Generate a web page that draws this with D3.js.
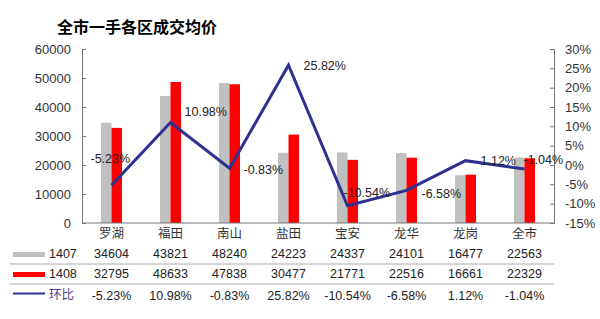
<!DOCTYPE html>
<html><head><meta charset="utf-8">
<script src="https://cdn.jsdelivr.net/npm/d3@7"></script>
<style>body{margin:0;background:#fff}svg{display:block}</style>
</head><body>
<svg id="c" width="600" height="319"></svg>
<script>
const categories = ["罗湖","福田","南山","盐田","宝安","龙华","龙岗","全市"];
const series1407 = [34604,43821,48240,24223,24337,24101,16477,22563];
const series1408 = [32795,48633,47838,30477,21771,22516,16661,22329];
const momPct = [-5.23,10.98,-0.83,25.82,-10.54,-6.58,1.12,-1.04];
const leftTicks = [0,10000,20000,30000,40000,50000,60000];
const rightTicks = [-15,-10,-5,0,5,10,15,20,25,30];
const seriesNames = ["1407","1408","环比"];
const title = "全市一手各区成交均价";

// label offsets (style) relative to each line point, text starts at offset
const labelOffsets = [[-21,-27],[14,-11],[14,1],[15,0],[-4,-13],[15,3],[15,0],[-1,-9]];

const pct = v => v.toFixed(2) + "%";
const svg = d3.select("#c");
const L = 82, R = 554, T = 49, B = 223;
const x = d3.scaleBand().domain(categories).range([L, R]).padding(0);
const yL = d3.scaleLinear().domain([0,60000]).range([B, T]);
const yR = d3.scaleLinear().domain([-15,30]).range([B, T]);
const bw = 10.5;
const axisColor = "#777";
const font = "'Liberation Sans', Arial, sans-serif";
const cjk = "'Noto Sans CJK SC', sans-serif";

svg.append("text").attr("x",57).attr("y",33).attr("font-family",cjk)
  .attr("font-weight","bold").attr("font-size",16).attr("fill","#000").text(title);

// bars
const cx = d => x(d) + x.bandwidth()/2;
svg.append("g").selectAll("rect").data(categories).join("rect")
  .attr("x", d => cx(d) - bw).attr("width", bw)
  .attr("y", (d,i) => yL(series1407[i])).attr("height", (d,i) => B - yL(series1407[i]))
  .attr("fill","#C0C0C0");
svg.append("g").selectAll("rect").data(categories).join("rect")
  .attr("x", d => cx(d)).attr("width", bw)
  .attr("y", (d,i) => yL(series1408[i])).attr("height", (d,i) => B - yL(series1408[i]))
  .attr("fill","#FF0000");

// axes
const gl = svg.append("g").attr("transform",`translate(${L},0)`)
  .call(d3.axisLeft(yL).tickValues(leftTicks).tickSize(-4).tickPadding(11).tickFormat(d => String(d)));
const gr = svg.append("g").attr("transform",`translate(${R},0)`)
  .call(d3.axisRight(yR).tickValues(rightTicks).tickSize(-4).tickPadding(11).tickFormat(d => d + "%"));
[gl,gr].forEach(g => {
  g.select(".domain").attr("stroke",axisColor);
  g.selectAll(".tick line").attr("stroke",axisColor);
  g.selectAll("text").attr("font-family",font).attr("font-size",13).attr("fill","#333");
});
svg.append("line").attr("x1",L).attr("x2",R).attr("y1",B).attr("y2",B).attr("stroke",axisColor);

// line
const line = d3.line().x(d => cx(d.c)).y(d => yR(d.v));
const pts = categories.map((c,i) => ({c, v: momPct[i]}));
svg.append("path").datum(pts).attr("d",line).attr("fill","none")
  .attr("stroke","#2E3192").attr("stroke-width",3).attr("stroke-linejoin","miter");
svg.append("g").selectAll("text").data(pts).join("text")
  .attr("x",(d,i) => cx(d.c) + labelOffsets[i][0])
  .attr("y",(d,i) => yR(d.v) + labelOffsets[i][1])
  .attr("dy","0.35em").attr("text-anchor","start")
  .attr("font-family",font).attr("font-size",12.5).attr("fill","#222")
  .text(d => pct(d.v));

// category labels
svg.append("g").selectAll("text").data(categories).join("text")
  .attr("x", d => cx(d)).attr("y", 234).attr("dy","0.35em").attr("text-anchor","middle")
  .attr("font-family",cjk).attr("font-size",12.5).attr("fill","#333").text(d => d);

// data table
const rowY = [254, 274, 296];
const rows = [series1407.map(d => String(d)), series1408.map(d => String(d)), momPct.map(pct)];
rows.forEach((r,ri) => {
  svg.append("g").selectAll("text").data(r).join("text")
    .attr("x",(d,i) => cx(categories[i])).attr("y",rowY[ri]).attr("dy","0.35em")
    .attr("text-anchor","middle").attr("font-family",font).attr("font-size",12.5).attr("fill","#222")
    .text(d => d);
});
[264, 284].forEach(yy => svg.append("line").attr("x1",10).attr("x2",R).attr("y1",yy).attr("y2",yy)
  .attr("stroke","#aaa").attr("stroke-width",1));
// legend keys
svg.append("rect").attr("x",13).attr("y",252).attr("width",32).attr("height",5).attr("fill","#C0C0C0");
svg.append("rect").attr("x",13).attr("y",272).attr("width",32).attr("height",5).attr("fill","#FF0000");
svg.append("line").attr("x1",13).attr("x2",45).attr("y1",293.5).attr("y2",293.5).attr("stroke","#2E3192").attr("stroke-width",2);
svg.append("text").attr("x",49).attr("y",254).attr("dy","0.35em").attr("font-family",font).attr("font-size",12.5).attr("fill","#222").text(seriesNames[0]);
svg.append("text").attr("x",49).attr("y",274).attr("dy","0.35em").attr("font-family",font).attr("font-size",12.5).attr("fill","#222").text(seriesNames[1]);
svg.append("text").attr("x",49).attr("y",295).attr("dy","0.35em").attr("font-family",cjk).attr("font-size",12.5).attr("fill","#4a3f8f").text(seriesNames[2]);
</script>
</body></html>
